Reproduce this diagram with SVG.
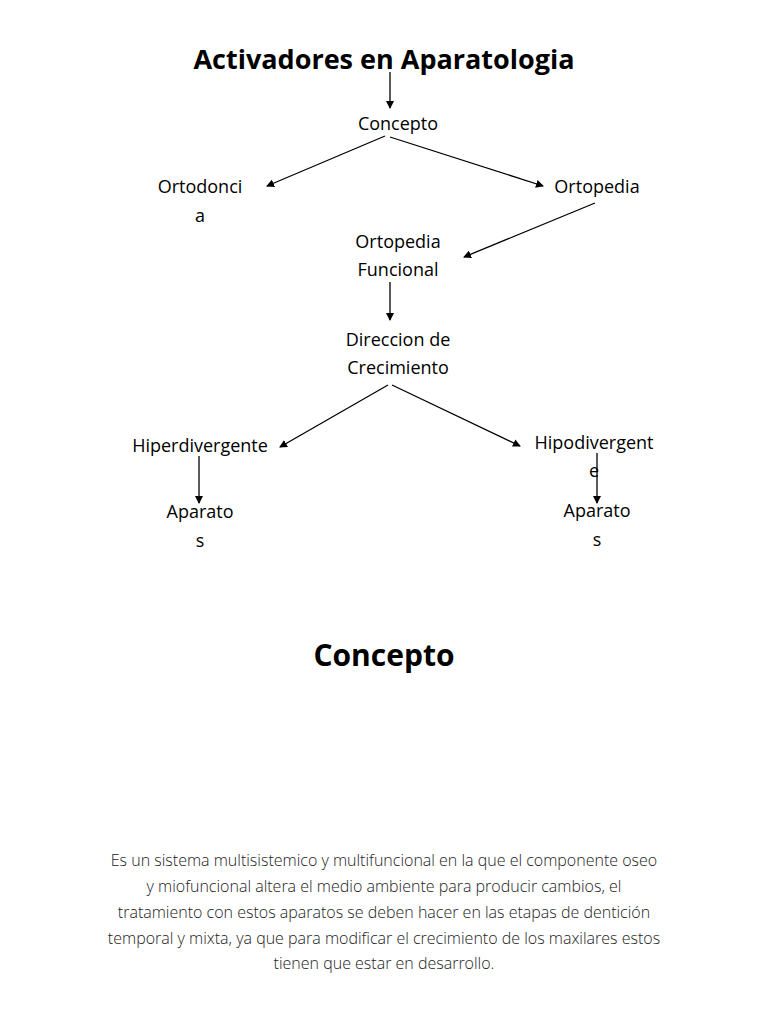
<svg xmlns="http://www.w3.org/2000/svg" width="768" height="1024" viewBox="0 0 768 1024">
<defs><marker id="a" markerWidth="8" markerHeight="8" refX="7" refY="4" orient="auto" markerUnits="userSpaceOnUse"><path d="M0,0 L8,4 L0,8 z" fill="#000"/></marker></defs>
<style>
text{font-family:"Open Sans","Noto Sans",sans-serif;text-anchor:middle;fill:#000}
.n{font-size:18px}
.t{font-size:27px;font-weight:bold}
.p{font-size:16px;font-weight:300;fill:#222}
line{stroke:#000;stroke-width:1.3;marker-end:url(#a)}
</style>
<rect width="768" height="1024" fill="#fff"/>
<g id="title"><text class="t" x="384" y="69">Activadores en Aparatologia</text></g>
<g id="connectors">
<line x1="390" y1="72" x2="390" y2="108"/>
<line x1="385" y1="136" x2="267" y2="186"/>
<line x1="390" y1="137" x2="543" y2="186"/>
<line x1="595" y1="203" x2="464" y2="257"/>
<line x1="390" y1="282" x2="390" y2="320"/>
<line x1="388" y1="385" x2="280" y2="447"/>
<line x1="392" y1="385" x2="520" y2="446"/>
<line x1="199" y1="456" x2="199" y2="503"/>
<line x1="597" y1="453" x2="597" y2="503"/>
</g>
<g id="concepto"><text class="n" x="398" y="130">Concepto</text></g>
<g id="ortodoncia"><text class="n" x="200" y="193">Ortodonci</text><text class="n" x="200" y="222">a</text></g>
<g id="ortopedia"><text class="n" x="597" y="193">Ortopedia</text></g>
<g id="funcional"><text class="n" x="398" y="248">Ortopedia</text><text class="n" x="398" y="276">Funcional</text></g>
<g id="direccion"><text class="n" x="398" y="346">Direccion de</text><text class="n" x="398" y="374">Crecimiento</text></g>
<g id="hiper"><text class="n" x="200" y="452">Hiperdivergente</text></g>
<g id="hipo"><text class="n" x="594" y="449">Hipodivergent</text><text class="n" x="594" y="477">e</text></g>
<g id="ap1"><text class="n" x="200" y="518">Aparato</text><text class="n" x="200" y="547">s</text></g>
<g id="ap2"><text class="n" x="597" y="517">Aparato</text><text class="n" x="597" y="546">s</text></g>
<g id="sec"><text class="t" x="384" y="666" style="font-size:30px">Concepto</text></g>
<g id="para">
<text class="p" x="384" y="866">Es un sistema multisistemico y multifuncional  en la que el componente oseo</text>
<text class="p" x="384" y="892">y miofuncional altera el medio ambiente para producir cambios, el</text>
<text class="p" x="384" y="918">tratamiento con estos aparatos se deben hacer  en las etapas de dentición</text>
<text class="p" x="384" y="944">temporal y mixta, ya que para modificar el crecimiento de los maxilares estos</text>
<text class="p" x="384" y="969">tienen que estar en desarrollo.</text>
</g>
</svg>
